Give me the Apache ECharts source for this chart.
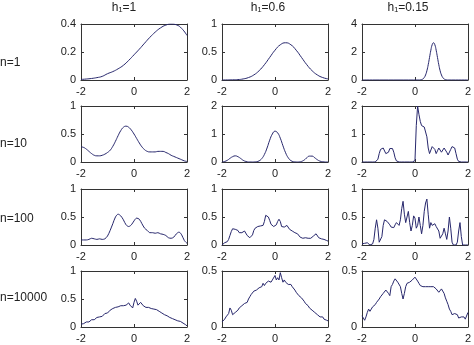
<!DOCTYPE html>
<html>
<head>
<meta charset="utf-8">
<script src="https://cdn.jsdelivr.net/npm/echarts/dist/echarts.min.js"></script>
<style>
html,body{margin:0;padding:0;background:#fff;}
#chart{width:474px;height:345px;}
</style>
</head>
<body>
<div id="chart"></div>
<script>
// Parzen-window density estimates: rows = sample size n, columns = window width h1

const colTitles = ['h\u2081=1', 'h\u2081=0.6', 'h\u2081=0.15'];
const rowLabels = ['n=1', 'n=10', 'n=100', 'n=10000'];
const xTicks = [-2, 0, 2];

// y-axis extent and tick step per panel [row][col]
const yMax  = [[0.4, 1, 4], [1, 2, 2], [1, 1, 1], [1, 0.5, 0.5]];
const yStep = [[0.2, 0.5, 2], [0.5, 1, 1], [0.5, 0.5, 0.5], [0.5, 0.5, 0.5]];

// sampling grids
const x02 = [-2,-1.8,-1.6,-1.4,-1.2,-1,-0.8,-0.6,-0.4,-0.2,0,0.2,0.4,0.6,0.8,1,1.2,1.4,1.6,1.8,2];
const x01 = [-2,-1.9,-1.8,-1.7,-1.6,-1.5,-1.4,-1.3,-1.2,-1.1,-1,-0.9,-0.8,-0.7,-0.6,-0.5,-0.4,-0.3,-0.2,-0.1,
  0,0.1,0.2,0.3,0.4,0.5,0.6,0.7,0.8,0.9,1,1.1,1.2,1.3,1.4,1.5,1.6,1.7,1.8,1.9,2];
const x005 = [-2,-1.95,-1.9,-1.85,-1.8,-1.75,-1.7,-1.65,-1.6,-1.55,-1.5,-1.45,-1.4,-1.35,-1.3,-1.25,-1.2,-1.15,-1.1,-1.05,
  -1,-0.95,-0.9,-0.85,-0.8,-0.75,-0.7,-0.65,-0.6,-0.55,-0.5,-0.45,-0.4,-0.35,-0.3,-0.25,-0.2,-0.15,-0.1,-0.05,
  0,0.05,0.1,0.15,0.2,0.25,0.3,0.35,0.4,0.45,0.5,0.55,0.6,0.65,0.7,0.75,0.8,0.85,0.9,0.95,
  1,1.05,1.1,1.15,1.2,1.25,1.3,1.35,1.4,1.45,1.5,1.55,1.6,1.65,1.7,1.75,1.8,1.85,1.9,1.95,2];
const xPeak = [-2,0.15,0.2,0.25,0.3,0.35,0.4,0.45,0.5,0.55,0.6,0.65,0.7,0.75,0.8,0.85,0.9,0.95,1,1.05,1.1,1.15,1.2,1.25,2];

// n = 1
const n1_h1   = [0.004,0.007,0.011,0.017,0.026,0.045,0.06,0.08,0.105,0.14,0.18,0.22,0.263,0.305,0.342,0.372,0.392,0.4,0.394,0.368,0.318];
const n1_h06  = [0,0.001,0.003,0.007,0.019,0.044,0.09,0.166,0.273,0.403,0.532,0.629,0.665,0.629,0.532,0.403,0.273,0.166,0.09,0.044,0.019];
const n1_h015 = [0,0,0.01,0.03,0.075,0.175,0.36,0.66,1.09,1.61,2.13,2.52,2.66,2.52,2.13,1.61,1.09,0.66,0.36,0.175,0.075,0.03,0.01,0,0];

// n = 10
const n10_h1  = [0.27,0.26,0.23,0.19,0.15,0.12,0.11,0.11,0.12,0.14,0.17,0.21,0.28,0.37,0.47,0.56,0.62,0.64,0.62,0.57,
  0.5,0.42,0.34,0.27,0.22,0.19,0.18,0.18,0.18,0.19,0.19,0.19,0.17,0.15,0.12,0.1,0.08,0.06,0.04,0.02,0.01];
const n10_h06 = [0,0.02,0.06,0.13,0.19,0.22,0.19,0.13,0.06,0.02,0,0,0,0.01,0.04,0.12,0.27,0.5,0.78,1.0,
  1.1,1.04,0.85,0.58,0.33,0.15,0.05,0.01,0,0,0.02,0.07,0.15,0.21,0.21,0.15,0.08,0.03,0.01,0,0];
const n10_h015 = [0,0,0,0,0,0,0,0,0,0,0,0.02,0.1,0.3,0.45,0.5,0.5,0.45,0.3,0.25,
  0.35,0.48,0.5,0.48,0.35,0.15,0.04,0,0,0,0,0,0,0,0,0,0,0,0,0,
  0.05,1.3,2.0,1.7,1.45,1.3,1.3,1.25,1.2,0.9,0.5,0.3,0.35,0.55,0.6,0.45,0.3,0.4,0.5,0.5,
  0.35,0.4,0.5,0.5,0.35,0.25,0.3,0.45,0.55,0.6,0.5,0.3,0.1,0.02,0,0,0,0,0,0,0];

// n = 100
const n100_h1 = [0.09,0.09,0.09,0.1,0.12,0.11,0.1,0.11,0.1,0.11,0.16,0.26,0.38,0.5,0.55,0.52,0.45,0.36,0.33,0.36,
  0.43,0.48,0.46,0.38,0.3,0.26,0.22,0.22,0.21,0.22,0.2,0.19,0.17,0.13,0.12,0.14,0.2,0.23,0.18,0.08,0.03];
const n100_h06 = [0,0.02,0.04,0.05,0.06,0.1,0.17,0.24,0.29,0.3,0.28,0.27,0.26,0.22,0.2,0.22,0.24,0.25,0.22,0.17,
  0.15,0.13,0.12,0.18,0.26,0.3,0.32,0.33,0.33,0.34,0.35,0.35,0.42,0.53,0.56,0.5,0.44,0.37,0.34,0.33,
  0.33,0.36,0.42,0.46,0.42,0.33,0.3,0.32,0.35,0.35,0.32,0.28,0.27,0.25,0.23,0.22,0.21,0.2,0.18,0.14,
  0.12,0.12,0.13,0.13,0.12,0.12,0.13,0.12,0.13,0.16,0.19,0.2,0.17,0.13,0.12,0.11,0.1,0.1,0.09,0.08,0.07];
const n100_h015 = [0.02,0.02,0.03,0.05,0.04,0.01,0,0,0.02,0.1,0.3,0.45,0.3,0.05,0.02,0.15,0.35,0.45,0.44,0.42,
  0.4,0.36,0.32,0.3,0.31,0.36,0.4,0.37,0.35,0.45,0.65,0.78,0.55,0.4,0.5,0.6,0.4,0.25,0.35,0.52,
  0.48,0.3,0.35,0.5,0.35,0.2,0.35,0.6,0.75,0.82,0.55,0.3,0.4,0.35,0.38,0.38,0.33,0.3,0.25,0.12,
  0.1,0.2,0.3,0.2,0.1,0.25,0.5,0.3,0.05,0,0,0,0.05,0.25,0.4,0.15,0,0,0,0,0];

// n = 10000
const n10000_h1 = [0.05,0.06,0.06,0.08,0.09,0.1,0.09,0.12,0.13,0.14,0.13,0.15,0.17,0.16,0.18,0.2,0.19,0.22,0.24,0.26,
  0.25,0.28,0.3,0.31,0.33,0.34,0.35,0.37,0.36,0.38,0.38,0.39,0.38,0.4,0.39,0.4,0.43,0.39,0.36,0.34,
  0.44,0.51,0.46,0.39,0.41,0.44,0.43,0.38,0.37,0.35,0.36,0.35,0.34,0.33,0.33,0.32,0.3,0.31,0.29,0.28,
  0.27,0.25,0.24,0.22,0.21,0.2,0.18,0.17,0.16,0.15,0.14,0.13,0.13,0.11,0.11,0.1,0.08,0.07,0.05,0.04,0.02];
const n10000_h06 = [0.045,0.06,0.07,0.09,0.1,0.12,0.17,0.15,0.11,0.12,0.13,0.14,0.15,0.17,0.17,0.19,0.2,0.21,0.22,0.22,
  0.25,0.27,0.29,0.3,0.32,0.32,0.33,0.33,0.35,0.34,0.36,0.39,0.37,0.39,0.4,0.41,0.42,0.4,0.42,0.43,
  0.46,0.42,0.44,0.42,0.485,0.44,0.4,0.42,0.4,0.39,0.38,0.37,0.38,0.36,0.35,0.33,0.31,0.3,0.28,0.27,
  0.26,0.25,0.23,0.21,0.2,0.19,0.17,0.16,0.15,0.14,0.13,0.12,0.11,0.1,0.09,0.08,0.09,0.07,0.06,0.06,0.055];
const n10000_h015 = [0.1,0.08,0.06,0.09,0.13,0.16,0.14,0.16,0.18,0.19,0.2,0.22,0.23,0.25,0.27,0.28,0.3,0.31,0.33,0.34,
  0.3,0.28,0.36,0.38,0.41,0.43,0.42,0.4,0.41,0.36,0.3,0.25,0.3,0.36,0.39,0.38,0.4,0.41,0.42,0.43,
  0.445,0.43,0.41,0.39,0.37,0.37,0.36,0.37,0.36,0.35,0.36,0.355,0.36,0.37,0.36,0.35,0.34,0.33,0.31,0.32,
  0.34,0.34,0.3,0.26,0.23,0.2,0.16,0.14,0.11,0.1,0.12,0.13,0.11,0.08,0.07,0.09,0.1,0.09,0.07,0.08,0.13];

// panel contents [row][col]: sample grid, values, smoothing
const panels = [
  [[x02, n1_h1, 0.5], [x02, n1_h06, 0.5], [xPeak, n1_h015, 0.5]],
  [[x01, n10_h1, 0.5], [x01, n10_h06, 0.5], [x005, n10_h015, 0]],
  [[x01, n100_h1, 0.3], [x005, n100_h06, 0], [x005, n100_h015, 0]],
  [[x005, n10000_h1, 0], [x005, n10000_h06, 0], [x005, n10000_h015, 0]]
];

// layout
const colLeft = [81, 222, 362];
const rowTop = [24, 106, 189, 271];
const boxW = 106, boxH = 56;
const FONT = 'Liberation Sans, Arial, Helvetica, sans-serif';
const AXIS_COLOR = '#333';
const LINE_COLOR = '#27276c';

const grid = [], xAxis = [], yAxis = [], series = [], graphic = [];

panels.forEach((row, r) => {
  row.forEach((p, c) => {
    const g = grid.length;
    grid.push({left: colLeft[c], top: rowTop[r], width: boxW, height: boxH, show: false, containLabel: false});
    const tick = {show: true, inside: true, length: 3, lineStyle: {color: AXIS_COLOR, width: 1}};
    const line = {show: true, onZero: false, lineStyle: {color: AXIS_COLOR, width: 1}};
    // bottom and top x axes (box)
    xAxis.push({
      gridIndex: g, type: 'value', position: 'bottom', min: xTicks[0], max: xTicks[xTicks.length - 1],
      interval: xTicks[1] - xTicks[0],
      axisLine: line, axisTick: tick, splitLine: {show: false},
      axisLabel: {show: true, color: '#222', fontSize: 11, fontFamily: FONT, margin: 6}
    });
    xAxis.push({
      gridIndex: g, type: 'value', position: 'top', min: xTicks[0], max: xTicks[xTicks.length - 1],
      interval: xTicks[1] - xTicks[0],
      axisLine: line, axisTick: tick, splitLine: {show: false}, axisLabel: {show: false}
    });
    // left and right y axes (box)
    yAxis.push({
      gridIndex: g, type: 'value', position: 'left', min: 0, max: yMax[r][c], interval: yStep[r][c],
      axisLine: line, axisTick: tick, splitLine: {show: false},
      axisLabel: {show: true, color: '#222', fontSize: 11, fontFamily: FONT, margin: 5}
    });
    yAxis.push({
      gridIndex: g, type: 'value', position: 'right', min: 0, max: yMax[r][c], interval: yStep[r][c],
      axisLine: line, axisTick: tick, splitLine: {show: false}, axisLabel: {show: false}
    });
    const xs = p[0], ys = p[1];
    series.push({
      type: 'line', xAxisIndex: 2 * g, yAxisIndex: 2 * g,
      data: xs.map((x, k) => [x, ys[k]]),
      showSymbol: false, symbol: 'none', smooth: p[2] > 0 ? p[2] : false,
      lineStyle: {color: LINE_COLOR, width: 1}, clip: true, silent: true
    });
  });
});

// column titles
const titleX = [124, 268, 408];
colTitles.forEach((t, c) => {
  graphic.push({type: 'text', x: titleX[c], y: 8,
    style: {text: t, fill: '#222', font: '12px ' + FONT, textAlign: 'center', textVerticalAlign: 'middle'}});
});
// row labels
const labelY = [63, 144, 219, 298];
rowLabels.forEach((t, r) => {
  graphic.push({type: 'text', x: 0, y: labelY[r],
    style: {text: t, fill: '#222', font: '12px ' + FONT, textAlign: 'left', textVerticalAlign: 'middle'}});
});

const chart = echarts.init(document.getElementById('chart'), null, {renderer: 'canvas'});
chart.setOption({animation: false, backgroundColor: '#fff', grid, xAxis, yAxis, series, graphic});
</script>
</body>
</html>
